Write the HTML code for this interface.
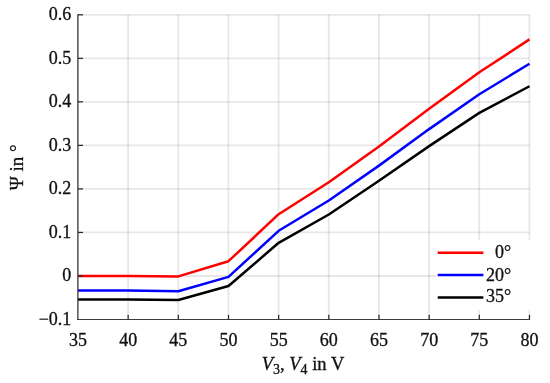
<!DOCTYPE html>
<html><head><meta charset="utf-8"><style>
html,body{margin:0;padding:0;background:#fff;}
body{width:550px;height:383px;overflow:hidden;}
svg{display:block;font-family:"Liberation Serif",serif;}
</style></head><body>
<svg width="550" height="383" viewBox="0 0 550 383">
<rect width="550" height="383" fill="#fff"/>
<g stroke="#262626" stroke-opacity="0.11" stroke-width="1.8" fill="none">
<line x1="128.06" y1="14.80" x2="128.06" y2="319.51"/>
<line x1="178.23" y1="14.80" x2="178.23" y2="319.51"/>
<line x1="228.40" y1="14.80" x2="228.40" y2="319.51"/>
<line x1="278.56" y1="14.80" x2="278.56" y2="319.51"/>
<line x1="328.72" y1="14.80" x2="328.72" y2="319.51"/>
<line x1="378.89" y1="14.80" x2="378.89" y2="319.51"/>
<line x1="429.05" y1="14.80" x2="429.05" y2="319.51"/>
<line x1="479.22" y1="14.80" x2="479.22" y2="319.51"/>
<line x1="529.38" y1="14.80" x2="529.38" y2="319.51"/>
<line x1="78.00" y1="14.80" x2="529.48" y2="14.80"/>
<line x1="78.00" y1="58.33" x2="529.48" y2="58.33"/>
<line x1="78.00" y1="101.86" x2="529.48" y2="101.86"/>
<line x1="78.00" y1="145.39" x2="529.48" y2="145.39"/>
<line x1="78.00" y1="188.92" x2="529.48" y2="188.92"/>
<line x1="78.00" y1="232.45" x2="529.48" y2="232.45"/>
<line x1="78.00" y1="275.98" x2="529.48" y2="275.98"/>
</g>
<g fill="none" stroke-width="2.5" stroke-linejoin="round" stroke-linecap="butt">
<polyline stroke="#ff0000" points="78.00,275.90 128.16,276.00 178.33,276.40 228.50,261.20 278.66,214.20 328.82,182.20 378.99,146.60 429.15,108.70 479.32,72.30 529.48,39.40"/>
<polyline stroke="#0000ff" points="78.00,290.50 128.16,290.40 178.33,291.30 228.50,276.90 278.66,230.80 328.82,200.50 378.99,165.60 429.15,129.10 479.32,94.30 529.48,63.75"/>
<polyline stroke="#000000" points="78.00,299.40 128.16,299.40 178.33,300.00 228.50,286.00 278.66,242.80 328.82,214.50 378.99,180.80 429.15,146.10 479.32,112.90 529.48,86.25"/>
</g>
<rect x="436" y="240" width="97" height="70.2" fill="#fff"/>
<g fill="none" stroke-width="2.5">
<line x1="437.7" y1="252.8" x2="483.4" y2="252.8" stroke="#ff0000"/>
<line x1="437.7" y1="275.1" x2="483.4" y2="275.1" stroke="#0000ff"/>
<line x1="437.7" y1="297.6" x2="483.4" y2="297.6" stroke="#000000"/>
</g>
<g stroke="#262626" stroke-width="1.2" fill="none">
<line x1="77.9" y1="14.20" x2="77.9" y2="320.01" stroke-width="1.2"/>
<line x1="77.3" y1="319.51" x2="529.98" y2="319.51" stroke-width="0.9"/>
<line x1="128.16" y1="319.51" x2="128.16" y2="314.81"/>
<line x1="178.33" y1="319.51" x2="178.33" y2="314.81"/>
<line x1="228.50" y1="319.51" x2="228.50" y2="314.81"/>
<line x1="278.66" y1="319.51" x2="278.66" y2="314.81"/>
<line x1="328.82" y1="319.51" x2="328.82" y2="314.81"/>
<line x1="378.99" y1="319.51" x2="378.99" y2="314.81"/>
<line x1="429.15" y1="319.51" x2="429.15" y2="314.81"/>
<line x1="479.32" y1="319.51" x2="479.32" y2="314.81"/>
<line x1="529.48" y1="319.51" x2="529.48" y2="314.81"/>
<line x1="77.9" y1="14.80" x2="83" y2="14.80"/>
<line x1="77.9" y1="58.33" x2="83" y2="58.33"/>
<line x1="77.9" y1="101.86" x2="83" y2="101.86"/>
<line x1="77.9" y1="145.39" x2="83" y2="145.39"/>
<line x1="77.9" y1="188.92" x2="83" y2="188.92"/>
<line x1="77.9" y1="232.45" x2="83" y2="232.45"/>
<line x1="77.9" y1="275.98" x2="83" y2="275.98"/>
</g>
<g fill="#111" stroke="#111" stroke-width="0.3" font-size="18">
<text x="78.00" y="345.5" text-anchor="middle">35</text>
<text x="128.16" y="345.5" text-anchor="middle">40</text>
<text x="178.33" y="345.5" text-anchor="middle">45</text>
<text x="228.50" y="345.5" text-anchor="middle">50</text>
<text x="278.66" y="345.5" text-anchor="middle">55</text>
<text x="328.82" y="345.5" text-anchor="middle">60</text>
<text x="378.99" y="345.5" text-anchor="middle">65</text>
<text x="429.15" y="345.5" text-anchor="middle">70</text>
<text x="479.32" y="345.5" text-anchor="middle">75</text>
<text x="529.48" y="345.5" text-anchor="middle">80</text>
<text x="71.3" y="20.20" text-anchor="end">0.6</text>
<text x="71.3" y="63.73" text-anchor="end">0.5</text>
<text x="71.3" y="107.26" text-anchor="end">0.4</text>
<text x="71.3" y="150.79" text-anchor="end">0.3</text>
<text x="71.3" y="194.32" text-anchor="end">0.2</text>
<text x="71.3" y="237.85" text-anchor="end">0.1</text>
<text x="71.3" y="281.38" text-anchor="end">0</text>
<text x="71.3" y="324.91" text-anchor="end">−0.1</text>
</g>
<g fill="#111" stroke="#111" stroke-width="0.3" font-size="18" text-anchor="end">
<text x="511.3" y="258.3">0°</text>
<text x="511.3" y="280.5">20°</text>
<text x="511.3" y="302.1">35°</text>
</g>
<text x="303" y="370.3" text-anchor="middle" fill="#111" stroke="#111" stroke-width="0.3" font-size="18.5"><tspan font-style="italic">V</tspan><tspan font-size="14" dy="4">3</tspan><tspan dy="-4">, </tspan><tspan font-style="italic">V</tspan><tspan font-size="14" dy="4">4</tspan><tspan dy="-4"> in V</tspan></text>
<text transform="translate(23,167.3) rotate(-90)" text-anchor="middle" fill="#111" stroke="#111" stroke-width="0.3" font-size="19">Ψ in °</text>
</svg></body></html>
